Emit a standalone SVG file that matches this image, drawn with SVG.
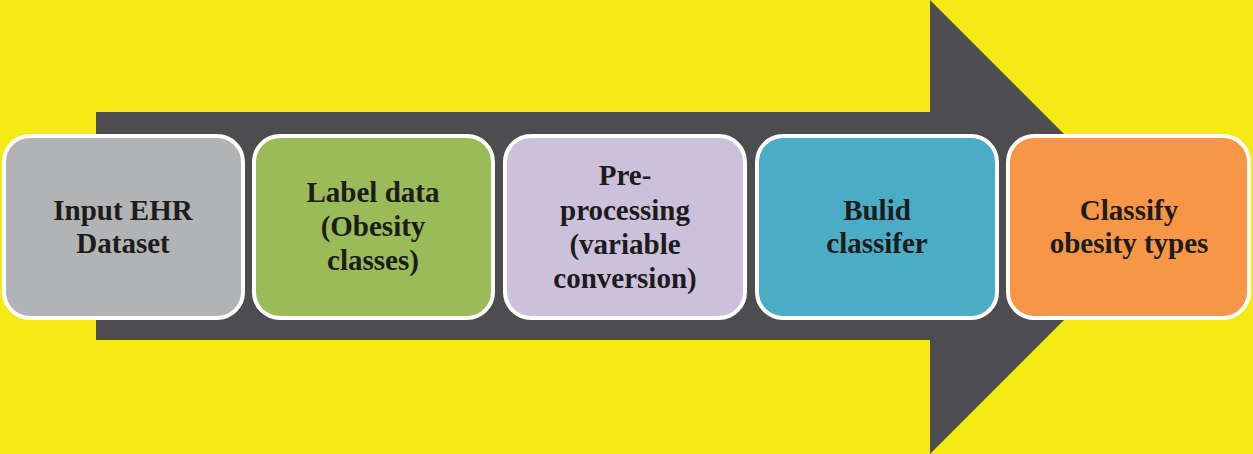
<svg xmlns="http://www.w3.org/2000/svg" width="1253" height="454" viewBox="0 0 1253 454">
<style>
.b{stroke:#fff;stroke-width:4}
.t{font-family:"Liberation Serif",serif;font-weight:bold;font-size:29px;fill:#1c1c1c;text-anchor:middle}
</style>
<rect width="1253" height="454" fill="#F5EA14"/>
<g id="arrow"><polygon points="96,112 930,112 930,0 1157,227 930,454 930,340 96,340" fill="#4D4D4F"/></g>
<g id="n1"><rect class="b" x="4" y="136" width="239" height="182" rx="26" fill="#B2B3B5"/>
<text class="t" x="123" y="220">Input EHR</text><text class="t" x="123" y="253">Dataset</text></g>
<g id="n2"><rect class="b" x="254" y="136" width="239" height="182" rx="26" fill="#9BBB59"/>
<text class="t" x="373" y="202">Label data</text><text class="t" x="373" y="236">(Obesity</text><text class="t" x="373" y="270">classes)</text></g>
<g id="n3"><rect class="b" x="505" y="136" width="240" height="182" rx="26" fill="#CCC1DA"/>
<text class="t" x="625" y="185">Pre-</text><text class="t" x="625" y="220">processing</text><text class="t" x="625" y="254">(variable</text><text class="t" x="625" y="288">conversion)</text></g>
<g id="n4"><rect class="b" x="757" y="136" width="240" height="182" rx="26" fill="#4BACC6"/>
<text class="t" x="877" y="220">Bulid</text><text class="t" x="877" y="253">classifer</text></g>
<g id="n5"><rect class="b" x="1008" y="136" width="241" height="182" rx="26" fill="#F79646"/>
<text class="t" x="1129" y="220">Classify</text><text class="t" x="1129" y="253">obesity types</text></g>
<g id="connectors"/>
</svg>
